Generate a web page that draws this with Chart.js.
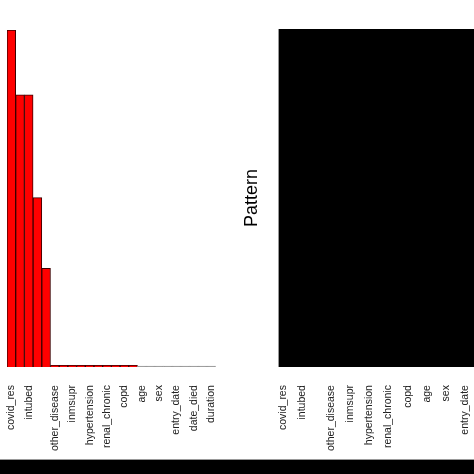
<!DOCTYPE html>
<html>
<head>
<meta charset="utf-8">
<script src="https://cdn.jsdelivr.net/npm/chart.js@4"></script>
<style>
  html, body { margin: 0; padding: 0; background: #fff; }
  body { width: 474px; height: 474px; overflow: hidden; position: relative; }
  #barWrap { position: absolute; left: 0; top: 0; }
  #patWrap { position: absolute; left: 236px; top: 0; }
  #band { position: absolute; left: 0; top: 459px; width: 474px; height: 15px; background: #000; border-top: 1px solid #999; box-sizing: border-box; }
</style>
</head>
<body>
<div id="barWrap"><canvas id="barChart" width="234" height="461"></canvas></div>
<div id="patWrap"><canvas id="patChart" width="290" height="461"></canvas></div>
<div id="band"></div>
<script>
// variables, sorted by proportion of missing values
const variables = [
  'covid_res', 'icu', 'intubed', 'pregnancy', 'contact_other_covid',
  'other_disease', 'pneumonia', 'inmsupr', 'diabetes', 'hypertension',
  'asthma', 'renal_chronic', 'cardiovascular', 'copd', 'obesity',
  'age', 'tobacco', 'sex', 'patient_type', 'entry_date',
  'date_symptoms', 'date_died', 'id', 'duration'
];

// proportion of missings per variable
const missing = [
  0.81, 0.654, 0.654, 0.407, 0.237,
  0.004, 0.004, 0.004, 0.004, 0.004,
  0.004, 0.004, 0.004, 0.004, 0.004,
  0, 0, 0, 0, 0,
  0, 0, 0, 0
];

// combination pattern: one row, every cell observed (drawn black)
const pattern = [
  1, 1, 1, 1, 1, 1, 1, 1, 1, 1, 1, 1,
  1, 1, 1, 1, 1, 1, 1, 1, 1, 1, 1, 1
];

// which tick labels R managed to print without overlap
const shownLabels = [
  'covid_res', 'intubed', 'other_disease', 'inmsupr', 'hypertension',
  'renal_chronic', 'copd', 'age', 'sex', 'entry_date', 'date_died', 'duration'
];

const labelFont = { family: "'Liberation Sans', Arial, sans-serif", size: 10.5 };

function tickLabel(value, index) {
  const name = variables[index];
  return shownLabels.includes(name) ? name : '';
}

const xAxis = {
  grid: { display: false },
  border: { display: false },
  ticks: {
    autoSkip: false,
    maxRotation: 90,
    minRotation: 90,
    padding: 10,
    color: '#222',
    font: labelFont,
    callback: tickLabel
  }
};

// Left panel: proportion of missings
new Chart(document.getElementById('barChart'), {
  type: 'bar',
  data: {
    labels: variables,
    datasets: [{
      data: missing,
      backgroundColor: ctx => missing[ctx.dataIndex] > 0 ? '#ff0000' : '#999',
      borderColor: ctx => missing[ctx.dataIndex] > 0 ? '#3a0000' : '#999',
      borderWidth: 1,
      minBarLength: 1,
      categoryPercentage: 1,
      barPercentage: 1
    }]
  },
  options: {
    responsive: false,
    animation: false,
    layout: { padding: { left: 7, right: 1, top: 30, bottom: 0 } },
    plugins: { legend: { display: false }, tooltip: { enabled: false } },
    scales: {
      x: xAxis,
      y: { display: false, min: 0, max: 0.81 }
    }
  }
});

// Right panel: missingness pattern
new Chart(document.getElementById('patChart'), {
  type: 'bar',
  data: {
    labels: variables,
    datasets: [{
      data: pattern,
      backgroundColor: '#000',
      borderWidth: 0,
      categoryPercentage: 1,
      barPercentage: 1.15
    }]
  },
  options: {
    responsive: false,
    animation: false,
    layout: { padding: { left: 0, right: 2, top: 29, bottom: 0 } },
    plugins: { legend: { display: false }, tooltip: { enabled: false } },
    scales: {
      x: xAxis,
      y: {
        min: 0, max: 1,
        grid: { display: false, drawTicks: false },
        border: { display: false },
        ticks: { display: false },
        title: {
          display: true,
          text: 'Pattern',
          color: '#000',
          font: { family: "'Liberation Sans', Arial, sans-serif", size: 18 },
          padding: { top: 5, bottom: 16 }
        }
      }
    }
  }
});
</script>
</body>
</html>
